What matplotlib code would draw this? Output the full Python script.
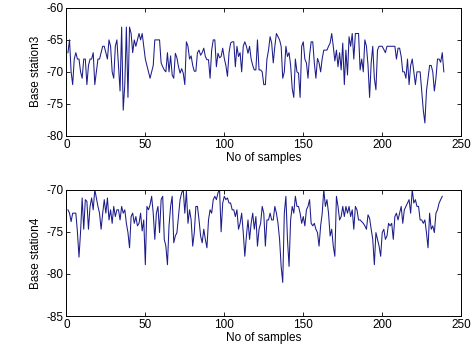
import numpy as np
import matplotlib
matplotlib.use("Agg")
import matplotlib.pyplot as plt

plt.rcParams['font.family'] = ['Liberation Sans', 'DejaVu Sans']
plt.rcParams['axes.unicode_minus'] = False

# Received signal strength (dBm)
bs3 = [-67, -65, -70, -72, -68, -67, -68, -68, -70, -71,
       -68, -68, -72, -69, -68, -68, -67, -72, -70, -68,
       -68, -67, -66, -66, -67, -68, -65, -66, -70, -71,
       -66, -65, -69, -73, -63, -76, -72, -63, -74, -63,
       -64, -67, -65, -66, -65, -64, -65, -64, -66, -68,
       -69, -70, -71, -70, -69, -65, -65, -65, -65, -68.6,
       -69.2, -69.7, -70, -67, -70, -67.5, -70.5, -71, -67.1, -67.8,
       -69.2, -70.2, -69.5, -70.2, -72, -65.3, -66, -68, -67.5, -69,
       -69.9, -69.9, -67, -66.6, -67.4, -67, -66.3, -67.6, -68.1, -68.1,
       -71, -66.6, -65, -65, -69.2, -67.1, -67.8, -67.6, -66.3, -67.9,
       -69, -70.7, -67, -65.5, -65.3, -65.3, -69.2, -66, -67.6, -67,
       -70, -66, -65.3, -66, -67.1, -66, -68, -69, -69.7, -69.7,
       -65, -69.7, -69.7, -70, -72, -72, -68, -66.6, -64.5, -65.5,
       -68.6, -66, -64, -64.5, -65, -66, -71, -70, -66, -67.6,
       -67, -69, -72.6, -74, -68, -70, -70.2, -74, -66, -65.3,
       -68, -68.6, -71, -67.4, -65.3, -65.3, -68.6, -71, -67.9, -68.6,
       -70, -67.9, -66.6, -66.6, -66.6, -66, -65.5, -64, -66, -68.3,
       -66.6, -69.2, -67, -69.7, -65.5, -72, -66.6, -70.5, -64.5, -66,
       -64, -68, -64, -64, -64, -69.7, -68, -70, -65, -66,
       -69, -74, -68.6, -66, -71, -72.8, -66.6, -66, -66, -66,
       -66.5, -67, -66, -66, -66, -66, -66, -66, -68, -66.3,
       -66.3, -67.6, -70, -70, -71, -68, -72, -69, -68, -70,
       -72, -70, -70, -70, -73, -76, -78, -73, -71, -69,
       -69, -70, -73, -71, -68, -68, -68.5, -67, -70]

bs4 = [-72.4, -72.8, -73.8, -72.8, -72.8, -72.8, -75, -78, -75, -71,
       -74.7, -71.2, -71.4, -74.7, -72, -71, -72.4, -70, -71, -72,
       -72.8, -74.7, -72.8, -71.2, -72.8, -71, -73.6, -72.4, -74, -72,
       -73.2, -72.4, -72.4, -73.6, -72, -72.8, -72.4, -74, -75.1, -76.9,
       -73.2, -72.8, -74, -73.2, -74.3, -74, -72.8, -74.9, -73.6, -78.9,
       -72, -72.4, -71.8, -70.8, -72.8, -75.9, -72.8, -72, -75.1, -71.2,
       -70.8, -75.9, -76.7, -78.9, -74.3, -72, -70.8, -76.3, -75.5, -75.1,
       -73.2, -71.2, -70.4, -70, -72.8, -70.2, -74, -72.4, -73.6, -76.7,
       -75.1, -72, -72, -73.6, -75.5, -76.3, -74.7, -75.9, -76.9, -73.6,
       -72.4, -72.8, -71.2, -70.8, -71.2, -70.4, -70, -75, -71.6, -70.8,
       -71.2, -71, -71.6, -71.6, -72.4, -72.4, -73.2, -72.4, -74.7, -74,
       -72.8, -75.1, -77.9, -75.5, -73.6, -75.9, -74, -72.8, -74.7, -73.2,
       -76.7, -74.7, -74, -72, -72.8, -76.7, -73.6, -73.6, -72.8, -73.6,
       -73.6, -72, -72.8, -74, -75.9, -79.1, -81, -72.8, -70.8, -75.9,
       -79.1, -73.6, -72, -72.8, -70.8, -72, -72, -72.8, -74, -73.2,
       -74.3, -72.4, -72, -71.2, -74, -74.3, -74, -74.7, -75.1, -76.7,
       -74.3, -72.8, -70, -72, -71.2, -72.8, -75.5, -74.7, -76.7, -77.9,
       -70.8, -72, -73.6, -73.2, -72, -73.2, -72, -72.8, -72, -73.2,
       -72.4, -74.7, -72, -72.4, -73.6, -73.6, -73.8, -74, -74.3, -74.7,
       -73, -73.4, -74.7, -75.9, -78.9, -75.1, -75.9, -76.7, -77.9, -75.1,
       -74.7, -75.9, -75.5, -74, -74.3, -74, -75.9, -73.2, -72.8, -73.6,
       -72.8, -72, -74, -72.4, -72, -71.6, -71.2, -72.8, -70, -71.6,
       -71.2, -72, -72, -73.6, -73.6, -74, -73.6, -75.1, -76.9, -72.8,
       -74.7, -74.3, -75.1, -72.8, -72.4, -71.6, -71.2, -70.8]

xticks = [0, 50, 100, 150, 200, 250]
yticks3 = [-80, -75, -70, -65, -60]
yticks4 = [-85, -80, -75, -70]

line_color = '#1c1c8a'

fig = plt.figure(figsize=(4.74, 3.61), dpi=100)
ax1 = fig.add_axes([0.140, 0.624, 0.833, 0.354])
ax2 = fig.add_axes([0.140, 0.124, 0.833, 0.351])

def style(ax, yticks, ylabel):
    ax.set_xlim(0, 250)
    ax.set_ylim(yticks[0], yticks[-1])
    ax.set_xticks(xticks)
    ax.set_yticks(yticks)
    ax.tick_params(direction='in', top=True, right=True, length=3,
                   width=0.6, labelsize=8.5, pad=2)
    for s in ax.spines.values():
        s.set_linewidth(0.7)
    ax.set_xlabel('No of samples', fontsize=8.5, labelpad=1)
    ax.set_ylabel(ylabel, fontsize=8.5, labelpad=3)

ax1.plot(np.arange(1, len(bs3) + 1), bs3, color=line_color, lw=0.75)
style(ax1, yticks3, 'Base station3')

ax2.plot(np.arange(1, len(bs4) + 1), bs4, color=line_color, lw=0.75)
style(ax2, yticks4, 'Base station4')

fig.savefig('out.png', dpi=100)
